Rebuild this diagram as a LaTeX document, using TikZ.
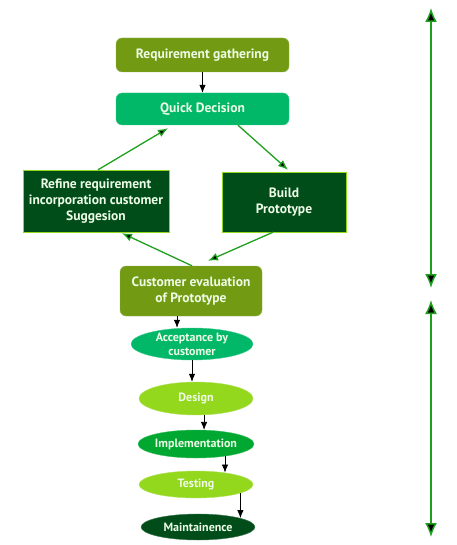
\documentclass[tikz,border=0pt]{standalone}
\usepackage{fontspec}
\setmainfont{PT Sans}
\usetikzlibrary{shapes.geometric, arrows.meta}
\definecolor{olivebox}{HTML}{729A12}
\definecolor{quickgreen}{HTML}{00B868}
\definecolor{darkbox}{HTML}{004D1A}
\definecolor{lightell}{HTML}{94D81E}
\definecolor{implgreen}{HTML}{00A832}
\definecolor{linegreen}{HTML}{1EA01E}
\definecolor{textwhite}{HTML}{EEFCE6}
\tikzset{
    roundbox/.style={rounded corners=6pt, draw=#1!75!white, fill=#1, text=textwhite, font=\bfseries\fontsize{13.5}{16}\selectfont},
    darkrect/.style={draw=lightell, fill=darkbox, text=textwhite, align=center, font=\bfseries\fontsize{13.5}{16}\selectfont},
    stageell/.style={ellipse, fill=#1, draw=#1!75!white, text=textwhite, align=center, inner sep=0pt, font=\bfseries\fontsize{12}{14}\selectfont},
    flow/.style={-{Latex[fill=black, length=10pt, width=8pt]}, linegreen, line width=1.3pt},
    down/.style={-{Latex[length=8pt, width=6.5pt]}, black, line width=0.8pt},
    side/.style={{Latex[fill=black, length=14pt, width=12pt]}-{Latex[fill=black, length=14pt, width=12pt]}, linegreen, line width=1.5pt}
}
\begin{document}
\begin{tikzpicture}[x=1pt, y=-1pt]
                \useasboundingbox (0, 0) rectangle (456, 545);
                \node (gather) at (202.5, 55) [roundbox=olivebox, minimum width=173pt, minimum height=34pt] {Requirement gathering};
                \node (decide) at (202.5, 109) [roundbox=quickgreen, minimum width=173pt, minimum height=32pt] {Quick Decision};
                \node (refine) at (96, 201) [darkrect, minimum width=146pt, minimum height=62pt] {Refine requirement\\incorporation customer\\Suggesion};
                \node (build) at (284, 202) [darkrect, minimum width=124pt, minimum height=60pt] {Build\\Prototype};
                \node (evaluate) at (191, 291) [roundbox=olivebox, minimum width=142pt, minimum height=50pt, align=center] {Customer evaluation\\of Prototype};
                \node (accept) at (192, 344) [stageell=quickgreen, minimum width=122pt, minimum height=32pt] {Acceptance by\\customer};
                \node (design) at (196, 398.5) [stageell=lightell, minimum width=114pt, minimum height=33pt] {Design};
                \node (implement) at (196, 444) [stageell=implgreen, minimum width=114pt, minimum height=28pt] {Implementation};
                \node (testing) at (196, 484.5) [stageell=lightell, minimum width=114pt, minimum height=27pt] {Testing};
                \node (maintain) at (198, 527) [stageell=darkbox, minimum width=114pt, minimum height=26pt] {Maintainence};
                \coordinate (topA) at (431, 8);
                \coordinate (topB) at (431, 288);
                \coordinate (lowA) at (431, 300);
                \coordinate (lowB) at (431, 537);
                % loop of the prototype
                \draw[down] (gather) -- (decide);
                \draw[flow] ([xshift=2pt]refine.north) -- ([xshift=-34.5pt, yshift=-3pt]decide.south);
                \draw[flow] ([xshift=35.5pt]decide.south) -- ([xshift=4pt, yshift=2pt]build.north);
                \draw[flow] ([xshift=-11pt]build.south) -- ([xshift=17pt, yshift=5pt]evaluate.north);
                \draw[flow] ([xshift=1pt]evaluate.north) -- ([xshift=26pt, yshift=-1pt]refine.south);
                % stages after acceptance
                \draw[down] ([xshift=-14pt]evaluate.south) -- ([xshift=-14pt]evaluate.south |- accept.north);
                \draw[down] (accept.south) -- (accept.south |- design.north);
                \draw[down] (design.-64) -- (implement.60 -| design.-64);
                \draw[down] (implement.-23.5) -- (testing.23 -| implement.-23.5);
                \draw[down] (testing.-11.7) -- (maintain.12.4 -| testing.-11.7);
                % time axis
                \draw[side] (topA) -- (topB);
                \draw[side] (lowA) -- (lowB);
            \end{tikzpicture}
\end{document}
